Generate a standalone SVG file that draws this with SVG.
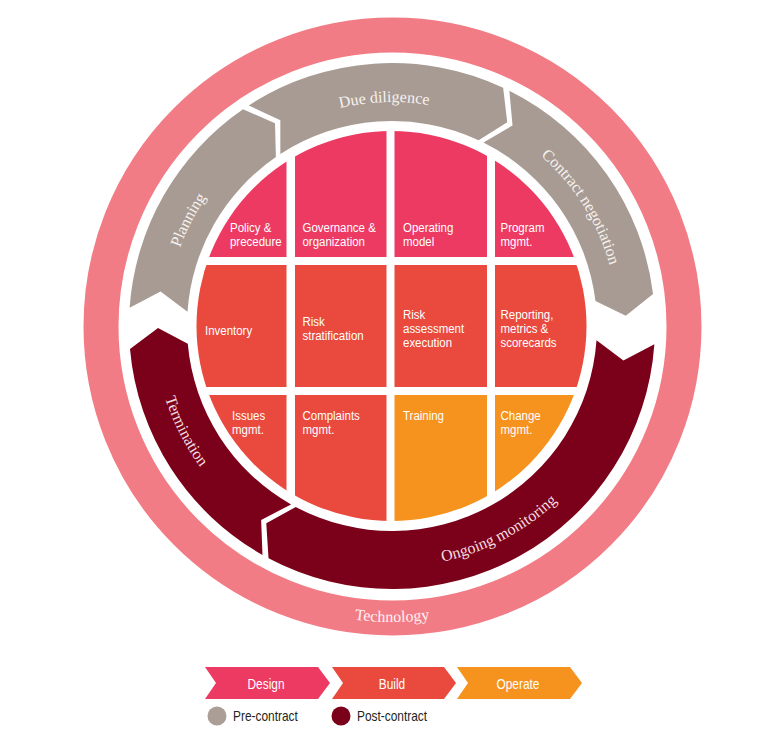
<svg xmlns="http://www.w3.org/2000/svg" width="770" height="731" viewBox="0 0 770 731">
<style>
.grey{fill:#a89b93}
.dark{fill:#7b0019}
.pink{fill:#ed3a63}
.red{fill:#e94a3d}
.orange{fill:#f6921e}
.cell-t{font-family:"Liberation Sans",Arial,sans-serif;font-size:13.5px;fill:#ffffff}
.ring-t{font-family:"Liberation Serif","Times New Roman",serif;font-size:16px}
.on-grey{fill:#f6f2ef}
.on-dark{fill:#f3dde0}
.leg-t{font-family:"Liberation Sans",Arial,sans-serif;font-size:14px}
</style>
<defs>
<clipPath id="gridClip"><circle cx="391.5" cy="326" r="195"/></clipPath>
<path id="pPlanning" d="M 171.36 374.92 A 226 226 0 0 1 305.51 117.20"/>
<path id="pDue" d="M 242.11 159.54 A 224 224 0 0 1 529.91 149.49"/>
<path id="pContract" d="M 461.09 110.82 A 226 226 0 0 1 615.91 356.67"/>
<path id="pTerm" d="M 160.10 272.46 A 238 238 0 0 0 299.0 545.08"/>
<path id="pOngoing" d="M 300.55 548.98 A 241 241 0 0 0 627.47 377.34"/>
<path id="pTech" d="M 201.73 552.75 A 296 296 0 0 0 582.27 552.75"/>
</defs>
<rect x="0" y="0" width="770" height="731" fill="#ffffff"/>

<g id="technology">
<circle cx="392.5" cy="326.5" r="291.5" fill="none" stroke="#f27c85" stroke-width="35"/>
<text class="ring-t" fill="#fdf1f2"><textPath href="#pTech" startOffset="50%" text-anchor="middle">Technology</textPath></text>
</g>

<g id="planning">
<path class="grey" d="M 129.64 307.65 A 263 263 0 0 1 243.03 109.25 L 275 123.35 L 275.89 157.05 A 205 205 0 0 0 187.50 311.70 L 160.57 291.41 Z"/>
<text class="ring-t on-grey"><textPath href="#pPlanning" startOffset="50%" text-anchor="middle">Planning</textPath></text>
</g>
<g id="due-diligence">
<path class="grey" d="M 248.76 105.43 A 263 263 0 0 1 503.15 87.64 L 507.23 122.34 L 478.64 140.21 A 205 205 0 0 0 280.35 154.07 L 280.34 120.36 Z"/>
<text class="ring-t on-grey"><textPath href="#pDue" startOffset="50%" text-anchor="middle">Due diligence</textPath></text>
</g>
<g id="contract-negotiation">
<path class="grey" d="M 509.35 90.63 A 263 263 0 0 1 653.04 293.95 L 625.78 315.79 L 595.47 301.02 A 205 205 0 0 0 483.47 142.54 L 512.52 125.42 Z"/>
<text class="ring-t on-grey"><textPath href="#pContract" startOffset="50%" text-anchor="middle">Contract negotiation</textPath></text>
</g>
<g id="ongoing-monitoring">
<path class="dark" d="M 654.36 344.35 A 263 263 0 0 1 268.53 558.22 L 266.27 523.35 L 295.76 507.00 A 205 205 0 0 0 596.50 340.30 L 623.43 360.59 Z"/>
<text class="ring-t on-dark"><textPath href="#pOngoing" startOffset="50%" text-anchor="middle">Ongoing monitoring</textPath></text>
</g>
<g id="termination">
<path class="dark" d="M 262.49 554.90 A 263 263 0 0 1 130.0 348.92 L 158.01 328.04 L 187.78 343.87 A 205 205 0 0 0 291.05 504.42 L 261.15 520.0 Z"/>
<text class="ring-t on-dark"><textPath href="#pTerm" startOffset="50%" text-anchor="middle">Termination</textPath></text>
</g>

<g id="grid" clip-path="url(#gridClip)">
<g id="cell-policy"><rect class="pink" x="180" y="120" width="106.5" height="137"/></g>
<g id="cell-governance"><rect class="pink" x="295" y="120" width="91.5" height="137"/></g>
<g id="cell-operating"><rect class="pink" x="394.5" y="120" width="92.5" height="137"/></g>
<g id="cell-program"><rect class="pink" x="495" y="120" width="110" height="137"/></g>
<g id="cell-inventory"><rect class="red" x="180" y="265" width="106.5" height="122"/></g>
<g id="cell-risk-strat"><rect class="red" x="295" y="265" width="91.5" height="122"/></g>
<g id="cell-risk-exec"><rect class="red" x="394.5" y="265" width="92.5" height="122"/></g>
<g id="cell-reporting"><rect class="red" x="495" y="265" width="110" height="122"/></g>
<g id="cell-issues"><rect class="red" x="180" y="395" width="106.5" height="140"/></g>
<g id="cell-complaints"><rect class="red" x="295" y="395" width="91.5" height="140"/></g>
<g id="cell-training"><rect class="orange" x="394.5" y="395" width="92.5" height="140"/></g>
<g id="cell-change"><rect class="orange" x="495" y="395" width="110" height="140"/></g>
</g>
<g id="cell-labels" class="cell-t" transform="scale(0.85 1)">
<text x="270.59" y="232.5">Policy &amp;</text>
<text x="270.59" y="246.5">precedure</text>
<text x="355.88" y="232.5">Governance &amp;</text>
<text x="355.88" y="246.5">organization</text>
<text x="474.12" y="232.5">Operating</text>
<text x="474.12" y="246.5">model</text>
<text x="588.82" y="232.5">Program</text>
<text x="588.82" y="246.5">mgmt.</text>
<text x="241.18" y="335">Inventory</text>
<text x="355.88" y="326">Risk</text>
<text x="355.88" y="340.5">stratification</text>
<text x="474.12" y="319">Risk</text>
<text x="474.12" y="333.3">assessment</text>
<text x="474.12" y="347.5">execution</text>
<text x="588.82" y="319">Reporting,</text>
<text x="588.82" y="333.3">metrics &amp;</text>
<text x="588.82" y="347.5">scorecards</text>
<text x="272.94" y="420.5">Issues</text>
<text x="272.94" y="434.5">mgmt.</text>
<text x="355.88" y="420.5">Complaints</text>
<text x="355.88" y="434.5">mgmt.</text>
<text x="474.12" y="420.5">Training</text>
<text x="588.82" y="420.5">Change</text>
<text x="588.82" y="434.5">mgmt.</text>
</g>

<g id="connectors"></g>

<g id="legend-design">
<polygon class="pink" points="205,667 318,667 330,683 318,699 205,699 216,683"/>
<text class="leg-t" transform="scale(0.85 1)" x="312.94" y="689" fill="#ffffff" text-anchor="middle">Design</text>
</g>
<g id="legend-build">
<polygon class="red" points="332,667 444,667 456,683 444,699 332,699 343,683"/>
<text class="leg-t" transform="scale(0.85 1)" x="461.18" y="689" fill="#ffffff" text-anchor="middle">Build</text>
</g>
<g id="legend-operate">
<polygon class="orange" points="457,667 570,667 582,683 570,699 457,699 468,683"/>
<text class="leg-t" transform="scale(0.85 1)" x="609.41" y="689" fill="#ffffff" text-anchor="middle">Operate</text>
</g>
<g id="legend-pre">
<circle cx="217" cy="716" r="9.5" fill="#aa9e96"/>
<text class="leg-t" transform="scale(0.85 1)" x="274.12" y="721" fill="#231f20">Pre-contract</text>
</g>
<g id="legend-post">
<circle cx="341" cy="716" r="9.5" fill="#7b0019"/>
<text class="leg-t" transform="scale(0.85 1)" x="420" y="721" fill="#231f20">Post-contract</text>
</g>
</svg>
